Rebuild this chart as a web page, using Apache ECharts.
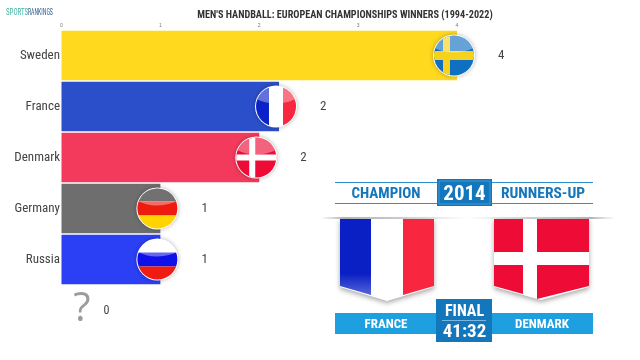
<!DOCTYPE html>
<html>
<head>
<meta charset="utf-8">
<style>
  html, body { margin: 0; padding: 0; background: #fff; }
  #chart { width: 640px; height: 360px; }
</style>
<script src="https://cdn.jsdelivr.net/npm/echarts@6/dist/echarts.min.js"></script>
</head>
<body>
<div id="chart"></div>
<script>
const categories = ['Sweden', 'France', 'Denmark', 'Germany', 'Russia', ''];
const barValues = [4, 2.2, 2, 1, 1, 0]; // France is mid animation in the frame
const titleLabels = [4, 2, 2, 1, 1, 0];
const barColors = ['#FFD91E', '#2B4FCB', '#F43A5C', '#6E6E6E', '#2B3FF5', '#999999'];
const flagCodes = ['se', 'fr', 'dk', 'de', 'ru', 'unknown'];
const tickLabels = [0, 1, 2, 3, 4];
const panelYear = '2014';
const panelChampion = 'FRANCE';
const panelRunnerUp = 'DENMARK';
const panelScore = '41:32';

const condensed = '"Roboto Condensed", "Liberation Sans Narrow", Roboto, sans-serif';

const chart = echarts.init(document.getElementById('chart'));

// flag drawn as rects clipped to a circle, r = 21
function flagParts(code) {
  const r = 21;
  const rect = (x, y, w, h, fill) => ({ type: 'rect', shape: { x, y, width: w, height: h }, style: { fill } });
  if (code === 'se') {
    return [rect(-r, -r, 2 * r, 2 * r, '#0F6FC0'), rect(-r, -4.5, 2 * r, 9, '#F7D21C'), rect(-11, -r, 7, 2 * r, '#F7D21C')];
  }
  if (code === 'fr') {
    return [rect(-r, -r, 14, 2 * r, '#0A22C8'), rect(-7, -r, 14, 2 * r, '#FFFFFF'), rect(7, -r, 14, 2 * r, '#F8273F')];
  }
  if (code === 'dk') {
    return [rect(-r, -r, 2 * r, 2 * r, '#EE0B35'), rect(-r, -3, 2 * r, 6, '#FFFFFF'), rect(-7, -r, 6, 2 * r, '#FFFFFF')];
  }
  if (code === 'de') {
    return [rect(-r, -r, 2 * r, 14, '#222222'), rect(-r, -7, 2 * r, 14, '#EE1C0E'), rect(-r, 7, 2 * r, 14, '#FFD400')];
  }
  return [rect(-r, -r, 2 * r, 14, '#FFFFFF'), rect(-r, -7, 2 * r, 14, '#1010E8'), rect(-r, 7, 2 * r, 14, '#F01C10')];
}

function renderFlag(params, api) {
  const pos = api.coord([api.value(0), api.value(1)]);
  const code = flagCodes[params.dataIndex];
  if (code === 'unknown') {
    return {
      type: 'text',
      x: pos[0] + 20.5,
      y: pos[1] - 1,
      style: { text: '?', fill: '#9C9C9C', font: '500 40px "Open Sans", sans-serif', align: 'center', verticalAlign: 'middle' }
    };
  }
  return {
    type: 'group',
    x: pos[0] - 3,
    y: pos[1],
    children: [
      { type: 'circle', shape: { r: 21 }, style: { fill: '#fff', shadowBlur: 4, shadowColor: 'rgba(0,0,0,0.3)' } },
      {
        type: 'group',
        clipPath: { type: 'circle', shape: { r: 20 } },
        children: flagParts(code).concat([
          // gloss on top half
          { type: 'ellipse', shape: { cx: 0, cy: -22, rx: 30, ry: 19 }, style: { fill: 'rgba(255,255,255,0.36)' } }
        ])
      }
    ]
  };
}

const option = {
  animation: false,
  backgroundColor: '#fff',
  title: {
    text: "MEN'S HANDBALL: EUROPEAN CHAMPIONSHIPS WINNERS (1994-2022)",
    left: 340,
    top: 5,
    textAlign: 'center',
    textStyle: { fontFamily: condensed, fontSize: 10.2, fontWeight: 'bold', color: '#333' }
  },
  grid: { left: 61.5, top: 30, width: 395.5, height: 306 },
  xAxis: {
    type: 'value',
    position: 'top',
    min: 0,
    max: 4,
    interval: 1,
    axisLine: { show: false },
    axisTick: { show: false },
    splitLine: { show: false },
    axisLabel: { fontSize: 5, color: '#777', margin: 2, formatter: v => (tickLabels.includes(v) ? String(v) : '') }
  },
  yAxis: {
    type: 'category',
    inverse: true,
    data: categories,
    axisLine: { show: false },
    axisTick: { show: false },
    axisLabel: { fontFamily: condensed, fontSize: 13, color: '#444', margin: 1.5 }
  },
  series: [
    {
      type: 'bar',
      barWidth: 49.5,
      silent: true,
      data: barValues.map((v, i) => ({
        value: v,
        itemStyle: { color: barColors[i] },
        label: v === 0 ? { fontSize: 12, distance: 42 } : undefined
      })),
      label: {
        show: true,
        position: 'right',
        distance: 41,
        color: '#444',
        fontFamily: condensed,
        fontSize: 13,
        formatter: p => String(titleLabels[p.dataIndex])
      }
    },
    {
      type: 'custom',
      silent: true,
      renderItem: renderFlag,
      encode: { x: 0, y: 1 },
      data: barValues.map((v, i) => [v, i]),
      z: 5,
      clip: false
    }
  ],
  graphic: [
    // logo
    { type: 'text', x: 6, y: 8, scaleX: 0.77, style: { text: 'SPORTS', fill: '#3FB5A3', font: '9px ' + condensed } },
    { type: 'text', x: 28, y: 8, scaleX: 0.65, style: { text: 'RANKINGS', fill: '#2F5F8F', font: '9px ' + condensed } },

    // header of the panel
    { type: 'rect', shape: { x: 335, y: 182, width: 258, height: 1 }, style: { fill: '#2B8FCF' } },
    { type: 'rect', shape: { x: 335, y: 203, width: 258, height: 1 }, style: { fill: '#2B8FCF' } },
    {
      type: 'rect',
      shape: { x: 320, y: 217, width: 295, height: 2 },
      style: {
        fill: {
          type: 'linear', x: 0, y: 0, x2: 1, y2: 0,
          colorStops: [
            { offset: 0, color: 'rgba(0,0,0,0)' },
            { offset: 0.08, color: 'rgba(0,0,0,0.28)' },
            { offset: 0.38, color: 'rgba(0,0,0,0.1)' },
            { offset: 0.5, color: 'rgba(0,0,0,0)' },
            { offset: 0.62, color: 'rgba(0,0,0,0.1)' },
            { offset: 0.92, color: 'rgba(0,0,0,0.28)' },
            { offset: 1, color: 'rgba(0,0,0,0)' }
          ]
        }
      }
    },
    { type: 'rect', shape: { x: 437, y: 179, width: 55, height: 27 }, style: { fill: '#1477BC' } },
    { type: 'rect', shape: { x: 439, y: 181, width: 51, height: 23 }, style: { fill: '#1477BC', stroke: '#6DB4E2', lineWidth: 0.5 } },
    { type: 'text', x: 464.5, y: 194.5, style: { text: panelYear, fill: '#fff', font: 'bold 21px ' + condensed, align: 'center', verticalAlign: 'middle' } },
    { type: 'text', x: 386, y: 194.5, style: { text: 'CHAMPION', fill: '#1477BC', font: 'bold 15px ' + condensed, align: 'center', verticalAlign: 'middle' } },
    { type: 'text', x: 543, y: 194.5, style: { text: 'RUNNERS-UP', fill: '#1477BC', font: 'bold 15.5px ' + condensed, align: 'center', verticalAlign: 'middle' } },

    // champion pennant
    {
      type: 'group',
      children: [
        { type: 'polygon', shape: { points: [[340, 219], [434, 219], [434, 287], [387, 301], [340, 287]] }, style: { fill: '#fff', shadowBlur: 5, shadowOffsetY: 2, shadowColor: 'rgba(0,0,0,0.35)' } },
        {
          type: 'polygon',
          shape: { points: [[340, 219], [371, 219], [371, 295], [340, 286]] },
          style: {
            fill: {
              type: 'linear', x: 0, y: 0, x2: 0, y2: 1,
              colorStops: [
                { offset: 0, color: '#0A1FC4' },
                { offset: 0.72, color: '#0A1FC4' },
                { offset: 1, color: '#5566D8' }
              ]
            }
          }
        },
        { type: 'polygon', shape: { points: [[403, 219], [434, 219], [434, 286], [403, 295]] }, style: { fill: '#F8273F' } }
      ]
    },
    // runner-up pennant
    {
      type: 'group',
      children: [
        { type: 'polygon', shape: { points: [[494, 219], [589, 219], [589, 287], [541, 300], [494, 287]] }, style: { fill: '#fff', shadowBlur: 5, shadowOffsetY: 2, shadowColor: 'rgba(0,0,0,0.35)' } },
        { type: 'rect', shape: { x: 494, y: 219, width: 29, height: 33 }, style: { fill: '#EE0B35' } },
        { type: 'rect', shape: { x: 537, y: 219, width: 52, height: 33 }, style: { fill: '#EE0B35' } },
        { type: 'polygon', shape: { points: [[494, 265], [523, 265], [523, 294], [494, 286]] }, style: { fill: '#EE0B35' } },
        { type: 'polygon', shape: { points: [[537, 265], [589, 265], [589, 286], [537, 299]] }, style: { fill: '#EE0B35' } }
      ]
    },

    // footer of the panel
    { type: 'rect', shape: { x: 335, y: 313, width: 258, height: 21 }, style: { fill: '#1E9FE0' } },
    { type: 'rect', shape: { x: 436, y: 299, width: 56, height: 43 }, style: { fill: '#1477BC' } },
    { type: 'rect', shape: { x: 442, y: 320, width: 44, height: 0.7 }, style: { fill: '#9CCBE8' } },
    { type: 'text', x: 464.5, y: 312, style: { text: 'FINAL', fill: '#fff', font: 'bold 16px ' + condensed, align: 'center', verticalAlign: 'middle' } },
    { type: 'text', x: 464.5, y: 332.5, style: { text: panelScore, fill: '#fff', font: 'bold 19px ' + condensed, align: 'center', verticalAlign: 'middle' } },
    { type: 'text', x: 386, y: 324.5, style: { text: panelChampion, fill: '#fff', font: 'bold 13px ' + condensed, align: 'center', verticalAlign: 'middle' } },
    { type: 'text', x: 542, y: 324.5, style: { text: panelRunnerUp, fill: '#fff', font: 'bold 13px ' + condensed, align: 'center', verticalAlign: 'middle' } }
  ]
};

chart.setOption(option);
</script>
</body>
</html>
